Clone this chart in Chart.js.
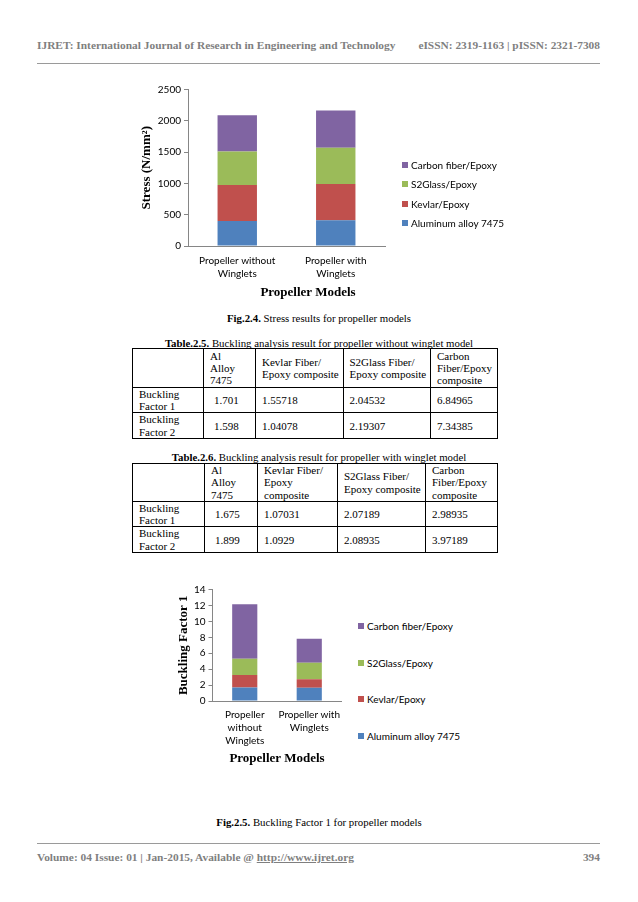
<!DOCTYPE html>
<html>
<head>
<meta charset="utf-8">
<title>Stress and buckling results for propeller models</title>
<script src="https://cdn.jsdelivr.net/npm/chart.js@4.4.1/dist/chart.umd.min.js"></script>
<style>
    body { margin: 0; background: #fff; }
    .page { position: relative; width: 638px; height: 902px; overflow: hidden;
            font-family: "Liberation Serif", "Times New Roman", serif; color: #000; }
    .page > * { position: absolute; }
    .running { font-size: 11.4px; line-height: 14px; font-weight: bold; color: #7f7f7f; white-space: nowrap; }
    .running u { color: #7f7f7f; }
    .rule { left: 37px; width: 563px; height: 1px; background: #9a9a9a; }
    .caption { left: 0; width: 638px; text-align: center; font-size: 10.8px; line-height: 14px; white-space: nowrap; }
    .axis-title { font-size: 13px; line-height: 16px; font-weight: bold; text-align: center; white-space: nowrap; }
    table.res { border-collapse: collapse; table-layout: fixed; font-size: 11px; line-height: 12.2px; }
    table.res td { border: 1px solid #000; padding: 0 2px 0 6px; vertical-align: middle; }
    table.res td.num1 { padding-left: 10px; }
    .legend { font-family: Lato, "Open Sans", sans-serif; font-size: 10px; color: #000; }
    .legend div { white-space: nowrap; }
    .legend span { display: inline-block; width: 6px; height: 6px; margin-right: 3px; vertical-align: 1px; }
</style>
</head>
<body>
<div class="page">
    <div class="running" style="left:37px; top:38px;">IJRET: International Journal of Research in Engineering and Technology</div>
    <div class="running" style="right:38px; top:38px;">eISSN: 2319-1163 | pISSN: 2321-7308</div>
    <div class="rule" style="top:63px;"></div>

    <canvas id="stressChart" width="396" height="209" style="left:110px; top:80px;"></canvas>
    <div class="legend" id="stressLegend" style="left:402px; top:156px; line-height:19.3px;"></div>
    <div class="axis-title" style="left:208px; width:200px; top:284px;">Propeller Models</div>

    <div class="caption" style="top:311px;"><b>Fig.2.4.</b> Stress results for propeller models</div>

    <div class="caption" style="top:336px;"><b>Table.2.5.</b> Buckling analysis result for propeller without winglet model</div>
    <table class="res" id="table25" style="left:132px; top:348px;"></table>

    <div class="caption" style="top:450px;"><b>Table.2.6.</b> Buckling analysis result for propeller with winglet model</div>
    <table class="res" id="table26" style="left:132px; top:463px;"></table>

    <canvas id="bucklingChart" width="180" height="174" style="left:170px; top:580px;"></canvas>
    <div class="legend" id="bucklingLegend" style="left:358px; top:608px; line-height:36.5px;"></div>
    <div class="axis-title" style="left:177px; width:200px; top:750px;">Propeller Models</div>

    <div class="caption" style="top:815px;"><b>Fig.2.5.</b> Buckling Factor 1 for propeller models</div>

    <div class="rule" style="top:843px;"></div>
    <div class="running" style="left:37px; top:850px;">Volume: 04 Issue: 01 | Jan-2015, Available @ <u>http://www.ijret.org</u></div>
    <div class="running" style="right:38px; top:850px;">394</div>
</div>

<script>
// Categories and series
const models = [['Propeller without', 'Winglets'], ['Propeller with', 'Winglets']];
const modelsNarrow = [['Propeller', 'without', 'Winglets'], ['Propeller with', 'Winglets']];
const materials = ['Aluminum alloy 7475', 'Kevlar/Epoxy', 'S2Glass/Epoxy', 'Carbon fiber/Epoxy'];
const materialColors = ['#4f81bd', '#c0504d', '#9bbb59', '#8064a2'];

// Fig.2.4 stress (N/mm2) per material, [without winglets, with winglets]
const stressAluminum = [401, 412];
const stressKevlar = [573, 578];
const stressS2Glass = [536, 578];
const stressCarbon = [578, 595];

// Table 2.5 / 2.6 values (Al, Kevlar, S2Glass, Carbon)
const noWingletFactor1 = ['1.701', '1.55718', '2.04532', '6.84965'];
const noWingletFactor2 = ['1.598', '1.04078', '2.19307', '7.34385'];
const wingletFactor1 = ['1.675', '1.07031', '2.07189', '2.98935'];
const wingletFactor2 = ['1.899', '1.0929', '2.08935', '3.97189'];

const heads25 = [['Al', 'Alloy', '7475'], ['Kevlar Fiber/', 'Epoxy composite'], ['S2Glass Fiber/', 'Epoxy composite'], ['Carbon', 'Fiber/Epoxy', 'composite']];
const heads26 = [['Al', 'Alloy', '7475'], ['Kevlar Fiber/', 'Epoxy', 'composite'], ['S2Glass Fiber/', 'Epoxy composite'], ['Carbon', 'Fiber/Epoxy', 'composite']];
const rowLabels = [['Buckling', 'Factor 1'], ['Buckling', 'Factor 2']];

const serif = '"Liberation Serif", "Times New Roman", serif';
const sans = 'Lato, "Open Sans", sans-serif';
const axisColor = '#868686';

function buildTable(id, heads, rows, widths, heights) {
    const table = document.getElementById(id);
    const cols = widths.map(w => `<col style="width:${w}px">`).join('');
    const head = `<tr style="height:${heights[0]}px"><td></td>${heads.map(h => `<td>${h.join('<br>')}</td>`).join('')}</tr>`;
    const body = rows.map((r, i) => `
        <tr style="height:${heights[i + 1]}px">
            <td>${rowLabels[i].join('<br>')}</td>
            ${r.map((v, j) => `<td class="${j === 0 ? 'num1' : ''}">${v}</td>`).join('')}
        </tr>`).join('');
    table.innerHTML = cols + head + body;
}

function buildLegend(chart, id) {
    document.getElementById(id).innerHTML = chart.data.datasets.slice().reverse().map(ds => `
        <div><span style="background:${ds.backgroundColor}"></span>${ds.label}</div>
    `).join('');
}

function makeChart(id, series, o) {
    return new Chart(document.getElementById(id), {
        type: 'bar',
        data: {
            labels: o.labels,
            datasets: materials.map((name, i) => ({
                label: name,
                data: series[i],
                backgroundColor: materialColors[i],
                barPercentage: o.barPct,
                categoryPercentage: 1
            }))
        },
        options: {
            responsive: false,
            animation: false,
            layout: { padding: o.padding },
            plugins: {
                legend: { display: false },
                tooltip: { enabled: false }
            },
            scales: {
                x: {
                    stacked: true,
                    grid: { display: false, drawTicks: false },
                    border: { color: axisColor },
                    ticks: {
                        color: '#000',
                        font: { family: sans, size: 10, lineHeight: 1.3 },
                        padding: o.xPad,
                        maxRotation: 0,
                        autoSkip: false
                    }
                },
                y: {
                    stacked: true,
                    min: 0,
                    max: o.max,
                    grid: { drawOnChartArea: false, tickLength: 4, color: axisColor },
                    border: { color: axisColor },
                    ticks: {
                        stepSize: o.step,
                        autoSkip: false,
                        color: '#000',
                        font: { family: sans, size: 10, lineHeight: 1.3 },
                        padding: 3,
                        callback: v => String(v)
                    },
                    title: {
                        display: true,
                        text: o.yTitle,
                        color: '#000',
                        font: { family: serif, size: 13, weight: 'bold' },
                        padding: { top: o.yTitlePad, bottom: 0 }
                    },
                    afterFit: scale => { scale.width = o.yWidth; }
                }
            }
        }
    });
}

buildTable('table25', heads25, [noWingletFactor1, noWingletFactor2], [71, 52, 87.5, 87.5, 67], [39, 25, 25]);
buildTable('table26', heads26, [wingletFactor1, wingletFactor2], [72, 53, 80, 88, 72], [38, 25, 25]);

const stressChart = makeChart('stressChart',
    [stressAluminum, stressKevlar, stressS2Glass, stressCarbon], {
        labels: models,
        barPct: 0.4,
        padding: { top: 4.5, right: 121, left: 0, bottom: 0 },
        xPad: 8.5,
        max: 2500,
        step: 500,
        yTitle: 'Stress (N/mm²)',
        yTitlePad: 29,
        yWidth: 78
    });
buildLegend(stressChart, 'stressLegend');

// Fig.2.5 uses Buckling Factor 1 from tables 2.5 and 2.6
const bucklingSeries = materials.map((m, i) => [Number(noWingletFactor1[i]), Number(wingletFactor1[i])]);
const bucklingChart = makeChart('bucklingChart', bucklingSeries, {
    labels: modelsNarrow,
    barPct: 0.39,
    padding: { top: 1, right: 8.5, left: 0, bottom: 0 },
    xPad: 7,
    max: 14,
    step: 2,
    yTitle: 'Buckling Factor 1',
    yTitlePad: 6.2,
    yWidth: 42.5
});
buildLegend(bucklingChart, 'bucklingLegend');
</script>
</body>
</html>
